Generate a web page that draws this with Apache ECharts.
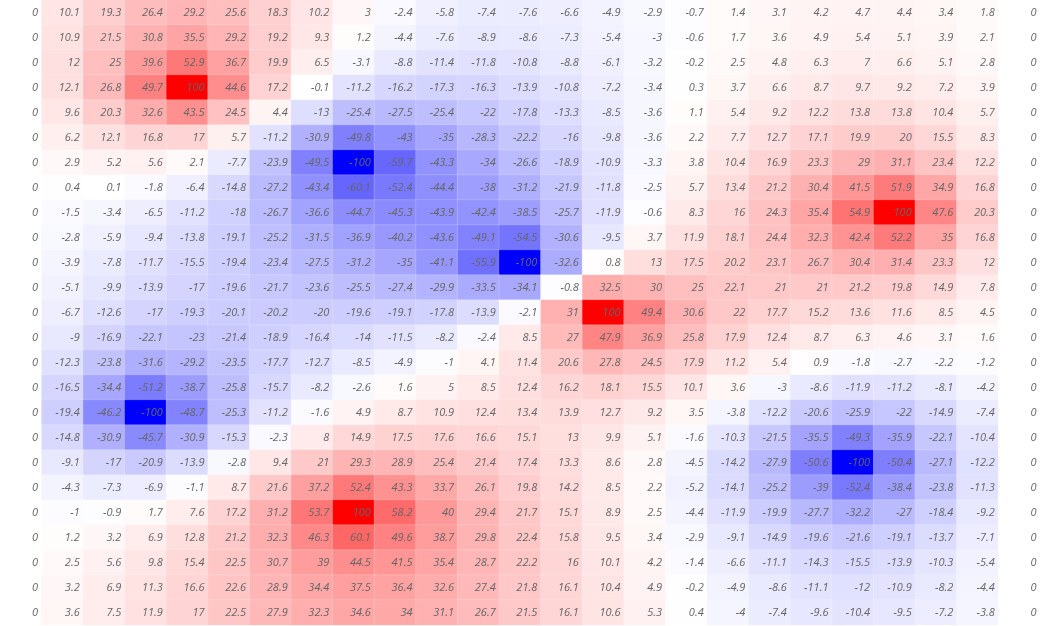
<!DOCTYPE html>
<html><head><meta charset="utf-8">
<script src="https://cdn.jsdelivr.net/npm/echarts@6/dist/echarts.min.js"></script>
<style>html,body{margin:0;padding:0;background:#fff}#chart{width:1043px;height:626px}</style>
</head><body><div id="chart"></div>
<script>
var rows = [
[0,10.1,19.3,26.4,29.2,25.6,18.3,10.2,3,-2.4,-5.8,-7.4,-7.6,-6.6,-4.9,-2.9,-0.7,1.4,3.1,4.2,4.7,4.4,3.4,1.8,0],
[0,10.9,21.5,30.8,35.5,29.2,19.2,9.3,1.2,-4.4,-7.6,-8.9,-8.6,-7.3,-5.4,-3,-0.6,1.7,3.6,4.9,5.4,5.1,3.9,2.1,0],
[0,12,25,39.6,52.9,36.7,19.9,6.5,-3.1,-8.8,-11.4,-11.8,-10.8,-8.8,-6.1,-3.2,-0.2,2.5,4.8,6.3,7,6.6,5.1,2.8,0],
[0,12.1,26.8,49.7,100,44.6,17.2,-0.1,-11.2,-16.2,-17.3,-16.3,-13.9,-10.8,-7.2,-3.4,0.3,3.7,6.6,8.7,9.7,9.2,7.2,3.9,0],
[0,9.6,20.3,32.6,43.5,24.5,4.4,-13,-25.4,-27.5,-25.4,-22,-17.8,-13.3,-8.5,-3.6,1.1,5.4,9.2,12.2,13.8,13.8,10.4,5.7,0],
[0,6.2,12.1,16.8,17,5.7,-11.2,-30.9,-49.8,-43,-35,-28.3,-22.2,-16,-9.8,-3.6,2.2,7.7,12.7,17.1,19.9,20,15.5,8.3,0],
[0,2.9,5.2,5.6,2.1,-7.7,-23.9,-49.5,-100,-59.7,-43.3,-34,-26.6,-18.9,-10.9,-3.3,3.8,10.4,16.9,23.3,29,31.1,23.4,12.2,0],
[0,0.4,0.1,-1.8,-6.4,-14.8,-27.2,-43.4,-60.1,-52.4,-44.4,-38,-31.2,-21.9,-11.8,-2.5,5.7,13.4,21.2,30.4,41.5,51.9,34.9,16.8,0],
[0,-1.5,-3.4,-6.5,-11.2,-18,-26.7,-36.6,-44.7,-45.3,-43.9,-42.4,-38.5,-25.7,-11.9,-0.6,8.3,16,24.3,35.4,54.9,100,47.6,20.3,0],
[0,-2.8,-5.9,-9.4,-13.8,-19.1,-25.2,-31.5,-36.9,-40.2,-43.6,-49.1,-54.5,-30.6,-9.5,3.7,11.9,18.1,24.4,32.3,42.4,52.2,35,16.8,0],
[0,-3.9,-7.8,-11.7,-15.5,-19.4,-23.4,-27.5,-31.2,-35,-41.1,-55.9,-100,-32.6,0.8,13,17.5,20.2,23.1,26.7,30.4,31.4,23.3,12,0],
[0,-5.1,-9.9,-13.9,-17,-19.6,-21.7,-23.6,-25.5,-27.4,-29.9,-33.5,-34.1,-0.8,32.5,30,25,22.1,21,21,21.2,19.8,14.9,7.8,0],
[0,-6.7,-12.6,-17,-19.3,-20.1,-20.2,-20,-19.6,-19.1,-17.8,-13.9,-2.1,31,100,49.4,30.6,22,17.7,15.2,13.6,11.6,8.5,4.5,0],
[0,-9,-16.9,-22.1,-23,-21.4,-18.9,-16.4,-14,-11.5,-8.2,-2.4,8.5,27,47.9,36.9,25.8,17.9,12.4,8.7,6.3,4.6,3.1,1.6,0],
[0,-12.3,-23.8,-31.6,-29.2,-23.5,-17.7,-12.7,-8.5,-4.9,-1,4.1,11.4,20.6,27.8,24.5,17.9,11.2,5.4,0.9,-1.8,-2.7,-2.2,-1.2,0],
[0,-16.5,-34.4,-51.2,-38.7,-25.8,-15.7,-8.2,-2.6,1.6,5,8.5,12.4,16.2,18.1,15.5,10.1,3.6,-3,-8.6,-11.9,-11.2,-8.1,-4.2,0],
[0,-19.4,-46.2,-100,-48.7,-25.3,-11.2,-1.6,4.9,8.7,10.9,12.4,13.4,13.9,12.7,9.2,3.5,-3.8,-12.2,-20.6,-25.9,-22,-14.9,-7.4,0],
[0,-14.8,-30.9,-45.7,-30.9,-15.3,-2.3,8,14.9,17.5,17.6,16.6,15.1,13,9.9,5.1,-1.6,-10.3,-21.5,-35.5,-49.3,-35.9,-22.1,-10.4,0],
[0,-9.1,-17,-20.9,-13.9,-2.8,9.4,21,29.3,28.9,25.4,21.4,17.4,13.3,8.6,2.8,-4.5,-14.2,-27.9,-50.6,-100,-50.4,-27.1,-12.2,0],
[0,-4.3,-7.3,-6.9,-1.1,8.7,21.6,37.2,52.4,43.3,33.7,26.1,19.8,14.2,8.5,2.2,-5.2,-14.1,-25.2,-39,-52.4,-38.4,-23.8,-11.3,0],
[0,-1,-0.9,1.7,7.6,17.2,31.2,53.7,100,58.2,40,29.4,21.7,15.1,8.9,2.5,-4.4,-11.9,-19.9,-27.7,-32.2,-27,-18.4,-9.2,0],
[0,1.2,3.2,6.9,12.8,21.2,32.3,46.3,60.1,49.6,38.7,29.8,22.4,15.8,9.5,3.4,-2.9,-9.1,-14.9,-19.6,-21.6,-19.1,-13.7,-7.1,0],
[0,2.5,5.6,9.8,15.4,22.5,30.7,39,44.5,41.5,35.4,28.7,22.2,16,10.1,4.2,-1.4,-6.6,-11.1,-14.3,-15.5,-13.9,-10.3,-5.4,0],
[0,3.2,6.9,11.3,16.6,22.6,28.9,34.4,37.5,36.4,32.6,27.4,21.8,16.1,10.4,4.9,-0.2,-4.9,-8.6,-11.1,-12,-10.9,-8.2,-4.4,0],
[0,3.6,7.5,11.9,17,22.5,27.9,32.3,34.6,34,31.1,26.7,21.5,16.1,10.6,5.3,0.4,-4,-7.4,-9.6,-10.4,-9.5,-7.2,-3.8,0]
]
var cols = [], rowNames = []
for (var i = 0; i < 25; i++) { cols.push('c' + i); rowNames.push('r' + i) }
var data = []
for (var r in rows)
    for (var c in rows[r])
        data.push([+c, +r, rows[r][c]])

var myChart = echarts.init(document.getElementById('chart'))
option = {
    animation: false,
    grid: {left: 0, top: 0, width: 1040, height: 625},
    xAxis: {type: 'category', data: cols, show: false},
    yAxis: {type: 'category', data: rowNames, inverse: true, show: false},
    visualMap: {show: false, min: -100, max: 100, inRange: {color: ['#0000ff', '#ffffff', '#ff0000']}},
    series: [{
        type: 'heatmap',
        data: data,
        itemStyle: {borderColor: 'rgba(255,255,255,0.35)', borderWidth: 0.5},
        label: {
            show: true, position: 'insideRight', distance: 4,
            color: '#666', fontStyle: 'italic', fontSize: 11, fontFamily: 'Open Sans',
            formatter: function(p){ return p.value[2] }
        }
    }]
}
myChart.setOption(option)
</script></body></html>
